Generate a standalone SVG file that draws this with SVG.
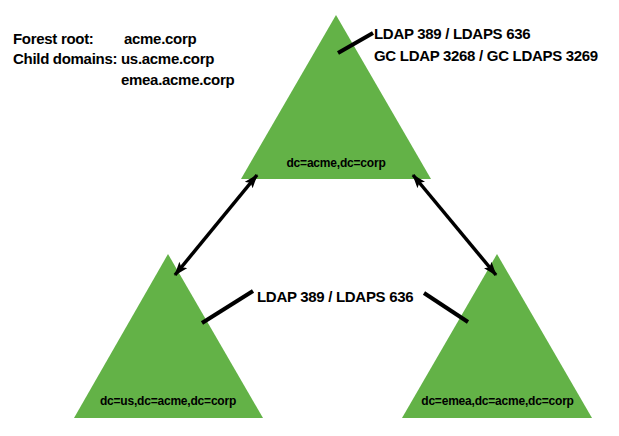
<svg xmlns="http://www.w3.org/2000/svg" width="619" height="436" viewBox="0 0 619 436">
<style>
.tri{fill:#63b247;}
.lbl{font-family:"Liberation Sans",Arial,sans-serif;font-weight:bold;font-size:15px;fill:#000;letter-spacing:-0.3px;}
.dn{font-family:"Liberation Sans",Arial,sans-serif;font-weight:bold;font-size:12px;fill:#000;text-anchor:middle;letter-spacing:-0.2px;}
.lead{stroke:#000;stroke-width:4;fill:none;}
.arr{stroke:#000;stroke-width:3.5;fill:none;marker-start:url(#ah);marker-end:url(#ah);}
</style>
<defs>
<marker id="ah" viewBox="0 0 14 10" refX="13" refY="5" markerWidth="14" markerHeight="10" markerUnits="userSpaceOnUse" orient="auto-start-reverse">
<path d="M0,0 L14,5 L0,10 L3,5 Z" fill="#000"/>
</marker>
</defs>
<rect width="619" height="436" fill="#fff"/>
<g id="legend">
<text class="lbl" x="13" y="44">Forest root:</text>
<text class="lbl" x="124" y="44">acme.corp</text>
<text class="lbl" x="13" y="64">Child domains:</text>
<text class="lbl" x="121" y="64">us.acme.corp</text>
<text class="lbl" x="121" y="85">emea.acme.corp</text>
</g>
<g id="node-root">
<polygon class="tri" points="336,15 241,179 431,179"/>
<text class="dn" x="336" y="167">dc=acme,dc=corp</text>
</g>
<g id="node-us">
<polygon class="tri" points="168,254 74,418 263,418"/>
<text class="dn" x="168" y="405">dc=us,dc=acme,dc=corp</text>
</g>
<g id="node-emea">
<polygon class="tri" points="497,254 402,418 592,418"/>
<text class="dn" x="497.5" y="405">dc=emea,dc=acme,dc=corp</text>
</g>
<g id="connectors">
<line class="arr" x1="257" y1="175" x2="175" y2="275"/>
<line class="arr" x1="413" y1="175" x2="496" y2="275"/>
<line class="lead" x1="338" y1="53" x2="373" y2="33"/>
<line class="lead" x1="202" y1="323" x2="253" y2="291"/>
<line class="lead" x1="424" y1="293" x2="468" y2="322"/>
</g>
<g id="labels">
<text class="lbl" x="374" y="39">LDAP 389 / LDAPS 636</text>
<text class="lbl" x="374" y="61">GC LDAP 3268 / GC LDAPS 3269</text>
<text class="lbl" x="257" y="302">LDAP 389 / LDAPS 636</text>
</g>
</svg>
